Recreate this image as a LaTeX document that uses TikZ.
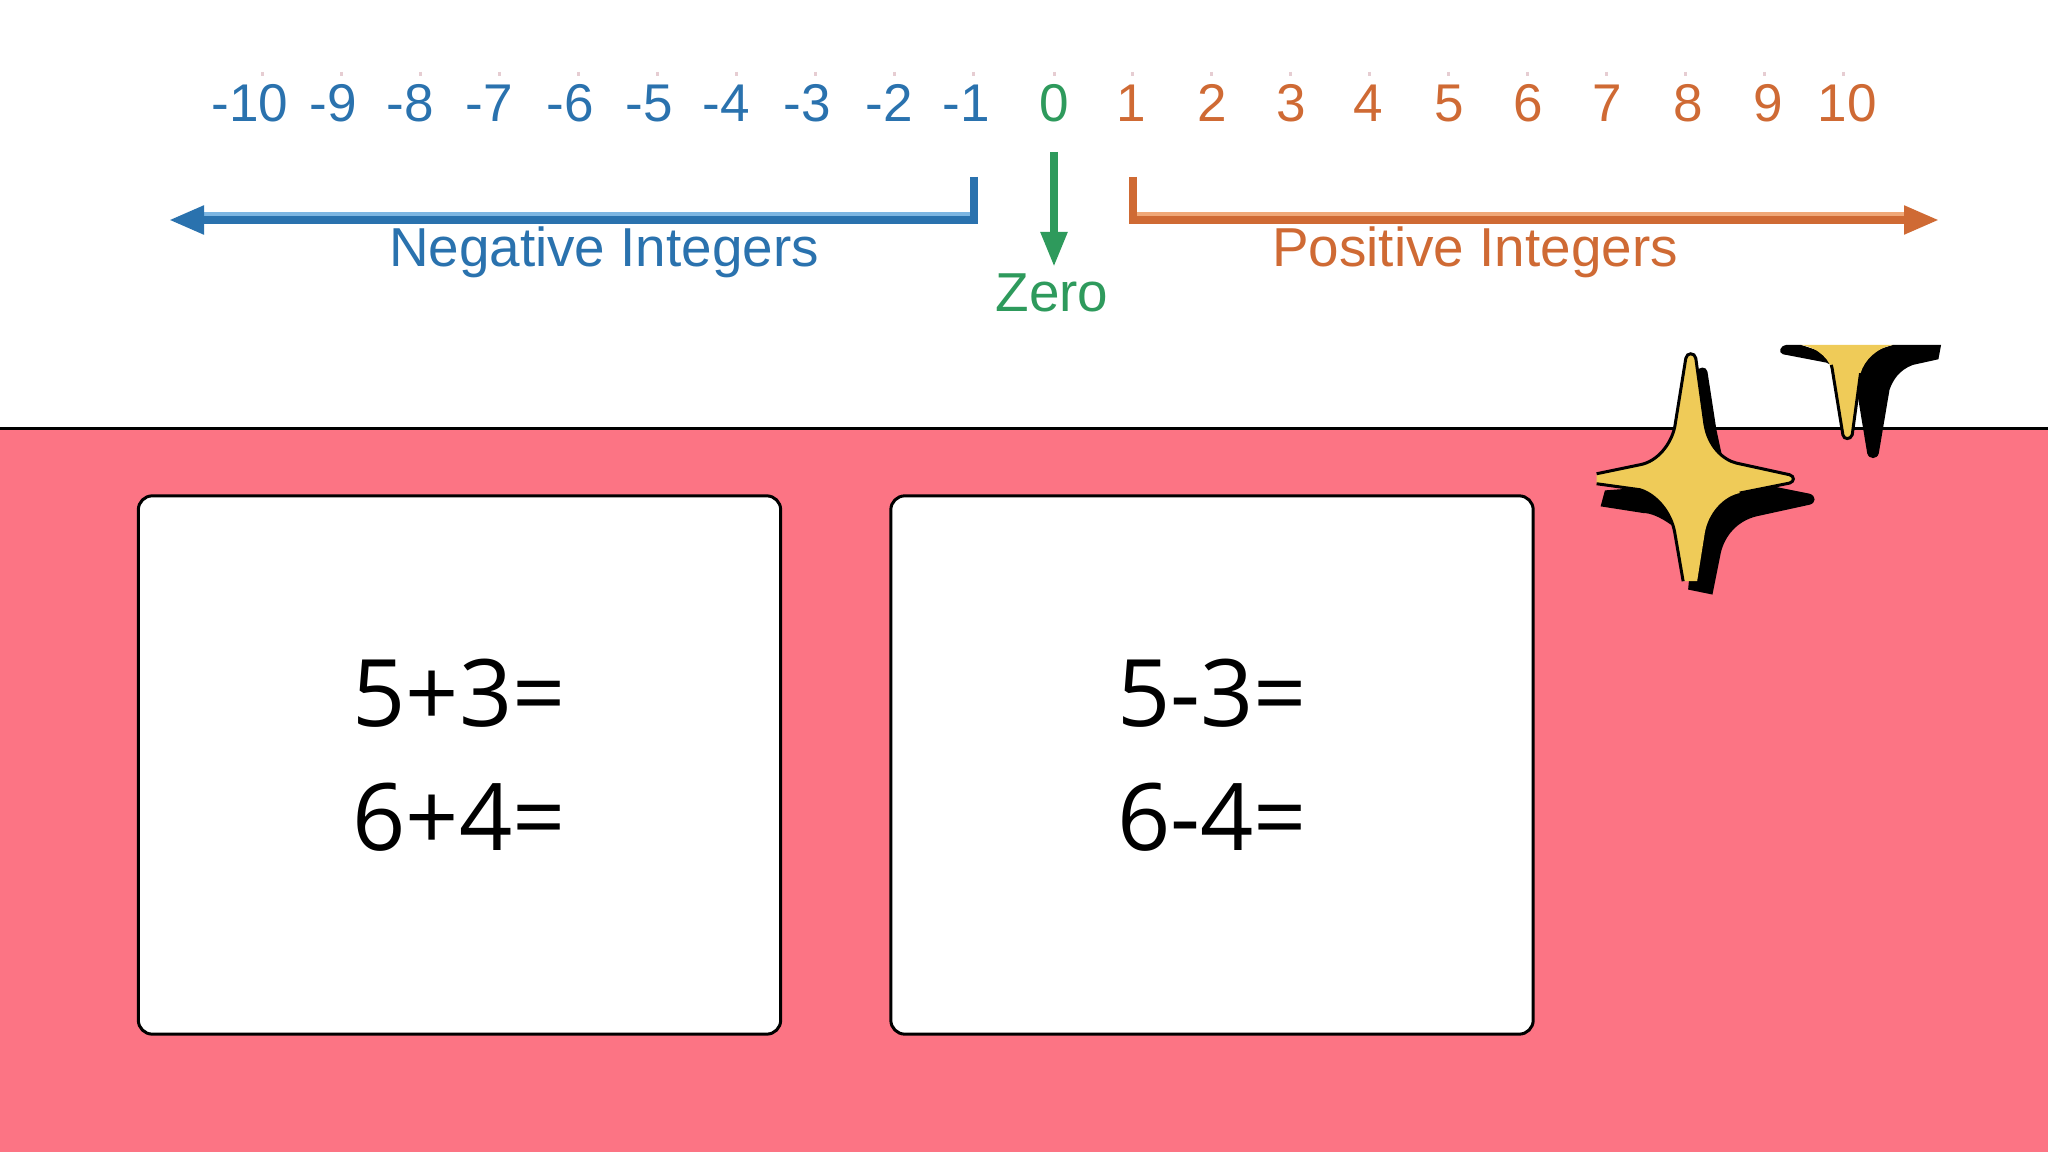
\documentclass[tikz,border=0pt]{standalone}
\usepackage{xcolor}
\usepackage{fontspec}
\setmainfont{Liberation Sans}
\newfontfamily\sumfont{Open Sans}
\usetikzlibrary{arrows.meta}
\definecolor{SlidePink}{HTML}{FC7484}
\definecolor{StarYellow}{HTML}{EFCB58}
\definecolor{NegBlue}{HTML}{2A72AE}
\definecolor{NegLight}{HTML}{7DB6E2}
\definecolor{PosOrange}{HTML}{CF6A34}
\definecolor{PosLight}{HTML}{F0A878}
\definecolor{ZeroGreen}{HTML}{2E9A5C}
\definecolor{TickGrey}{HTML}{E6CDD2}
\tikzset{card/.style={rectangle,draw=black,fill=white,line width=0.03cm,rounded corners=0.14cm,minimum width=6.42cm,minimum height=5.38cm,inner sep=0pt},
sumtext/.style={align=center,font=\sumfont\fontsize{26.5}{35.3}\selectfont},
numtext/.style={anchor=base,font=\fontsize{15.1}{18}\selectfont},
wordtext/.style={anchor=base,font=\fontsize{15.6}{18}\selectfont},
tickmark/.style={color=TickGrey,line width=0.03cm}}

\begin{document}
\begin{tikzpicture}[x=0.01cm,y=-0.01cm]

\useasboundingbox (0,0) rectangle (2048,1152);

%DRAWING Background

 \fill[white] (0,0) rectangle (2048,429);
 \fill[SlidePink] (0,429) rectangle (2048,1152);
 \draw[black,line width=0.03cm] (0,429)--(2048,429);

%Inserting number labels and ticks

 \foreach \x/\n in {250/-10,333/-9,410/-8,489/-7,570/-6,649/-5,726/-4,807/-3,889/-2,966/-1}
 {\node[numtext,color=NegBlue] (NumLabel\n) at (\x,122) {\n};}

 \node[numtext,color=ZeroGreen] (NumLabel0) at (1054,122) {0};

 \foreach \x/\n in {1131/1,1212/2,1291/3,1368/4,1449/5,1528/6,1607/7,1688/8,1768/9,1847/10}
 {\node[numtext,color=PosOrange] (NumLabel\n) at (\x,122) {\n};}

 \foreach \x in {262,341,...,973,1054,1132,1211,...,1843}
 {\draw[tickmark] (\x,72)--(\x,76);}

%Inserting arrows and their labels

 \coordinate (NegStart) at (974,177);
 \coordinate (NegEnd) at (169,220);
 \coordinate (PosStart) at (1133,177);
 \coordinate (PosEnd) at (1939,220);
 \coordinate (ZeroStart) at (1054,152);
 \coordinate (ZeroEnd) at (1054,267);

 \draw[color=NegLight,line width=0.08cm] (204,216)--(974,216);
 \draw[color=PosLight,line width=0.08cm] (1133,216)--(1904,216);
 \draw[-{Triangle[length=0.35cm,width=0.27cm]},color=NegBlue,line width=0.08cm] (NegStart) |- (NegEnd);
 \draw[-{Triangle[length=0.35cm,width=0.27cm]},color=PosOrange,line width=0.08cm] (PosStart) |- (PosEnd);
 \draw[-{Triangle[length=0.35cm,width=0.25cm]},color=ZeroGreen,line width=0.08cm] (ZeroStart)--(ZeroEnd);

 \node[wordtext,color=NegBlue] (NegLabel) at (604,267) {Negative Integers};
 \node[wordtext,color=PosOrange] (PosLabel) at (1475,267) {Positive Integers};
 \node[wordtext,color=ZeroGreen] (ZeroLabel) at (1052,312) {Zero};

%Inserting cards

 \node[card] (CardAdd) at (459.5,765) {};
 \node[card] (CardSub) at (1212,765) {};
 \node[sumtext] (SumsAdd) at (459,755) {5+3=\\6+4=};
 \node[sumtext] (SumsSub) at (1212,755) {5-3=\\6-4=};

%Inserting stars

 \begin{scope}[shift={(1560,320)},x=0.003333cm,y=-0.003333cm]
  \fill[black] (413,155) .. controls (415,140) and (440,138) .. (443,155) -- (470,330) -- (485,400) .. controls (520,460) and (600,490) .. (640,500) -- (750,522) .. controls (770,528) and (770,550) .. (750,555) -- (590,590) .. controls (530,605) and (495,650) .. (483,700) -- (458,825) -- (385,810) -- (395,700) -- (340,620) .. controls (300,590) and (270,580) .. (250,580) -- (122,560) -- (135,512) -- (300,500) -- cycle;
  \fill[StarYellow] (378,115) .. controls (381,97) and (405,97) .. (408,115) -- (435,310) .. controls (445,380) and (490,420) .. (530,430) -- (690,465) .. controls (705,470) and (705,485) .. (690,490) -- (540,520) .. controls (490,530) and (445,580) .. (435,640) -- (412,785) -- (370,785) -- (345,640) .. controls (335,580) and (290,525) .. (240,510) -- (110,492) -- (110,462) -- (240,435) .. controls (295,425) and (335,370) .. (345,320) -- cycle;
  \draw[black,line width=0.03cm] (110,462) -- (240,435) .. controls (295,425) and (335,370) .. (345,320) -- (378,115) .. controls (381,97) and (405,97) .. (408,115) -- (435,310) .. controls (445,380) and (490,420) .. (530,430) -- (690,465) .. controls (705,470) and (705,485) .. (690,490) -- (540,520);
  \draw[black,line width=0.03cm] (110,492) -- (240,510) .. controls (290,525) and (335,580) .. (345,640) -- (370,785);
  \fill[black] (680,75) -- (725,75) -- (800,100) -- (815,135) -- (800,128) -- (670,103) .. controls (655,98) and (660,78) .. (680,75) -- cycle;
  \fill[black] (1000,75) -- (1145,75) -- (1137,118) -- (1060,135) .. controls (1020,150) and (1000,180) .. (990,210) -- (958,400) .. controls (953,420) and (928,420) .. (923,400) -- (895,230) -- (890,160) -- (920,100) -- cycle;
  \fill[StarYellow] (725,75) .. controls (780,85) and (812,120) .. (820,160) -- (850,345) .. controls (853,360) and (873,360) .. (878,345) -- (903,160) .. controls (915,120) and (950,85) .. (1000,75) -- cycle;
  \draw[black,line width=0.03cm] (815,135) .. controls (817,142) and (819,150) .. (820,160) -- (850,345) .. controls (853,360) and (873,360) .. (878,345) -- (903,160);
 \end{scope}

\end{tikzpicture}
\end{document}
